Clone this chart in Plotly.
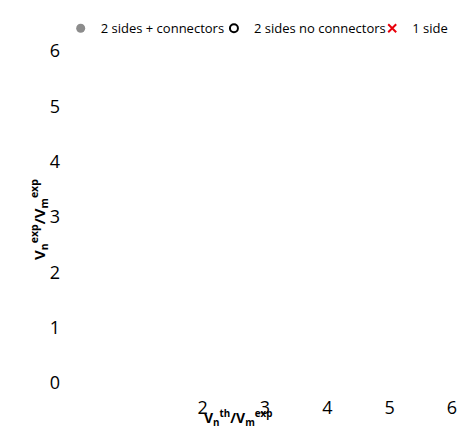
import plotly.graph_objects as go

# Data (the reference plot area shows no visible points)
series_names = ["2 sides + connectors", "2 sides no connectors", "1 side"]
x_2sides_conn = [None]
y_2sides_conn = [None]
x_2sides_noconn = [None]
y_2sides_noconn = [None]
x_1side = [None]
y_1side = [None]

x_ticks = [2, 3, 4, 5, 6]
y_ticks = [0, 1, 2, 3, 4, 5, 6]

FONT = "Open Sans, Noto Sans, sans-serif"

W, H = 466, 426
L, R, T, B = 70.3, 443.7, 42.7, 374.7


def px_x(v):
    return (v - L) / (R - L)


def px_y(v):
    return (B - v) / (B - T)


fig = go.Figure()
fig.add_trace(go.Scatter(x=x_2sides_conn, y=y_2sides_conn, mode="markers", name=series_names[0],
                         legend="legend",
                         marker=dict(symbol="circle", size=9, color="#8c8c8c")))
fig.add_trace(go.Scatter(x=x_2sides_noconn, y=y_2sides_noconn, mode="markers", name=series_names[1],
                         legend="legend2",
                         marker=dict(symbol="circle-open", size=8, color="black", line=dict(width=2, color="black"))))
fig.add_trace(go.Scatter(x=x_1side, y=y_1side, mode="markers", name=series_names[2],
                         legend="legend3",
                         marker=dict(symbol="x-thin-open", size=8, color="#e8000b", line=dict(width=2, color="#e8000b"))))

leg_common = dict(orientation="h", xanchor="left", yanchor="middle", y=px_y(20),
                  font=dict(size=13, family=FONT), itemwidth=30, indentation=-15,
                  bgcolor="rgba(0,0,0,0)", borderwidth=0)

fig.update_layout(
    width=W, height=H,
    margin=dict(l=L, r=W - R, t=T, b=H - B, autoexpand=False),
    paper_bgcolor="white", plot_bgcolor="white",
    font=dict(family=FONT, color="black"),
    showlegend=True,
    legend=dict(x=px_x(68), **leg_common),
    legend2=dict(x=px_x(221), **leg_common),
    legend3=dict(x=px_x(379), **leg_common),
    xaxis=dict(range=[0, 6], tickvals=x_ticks, showgrid=False, zeroline=False, showline=False,
               ticks="", tickfont=dict(size=18, family=FONT), ticklabelstandoff=12),
    yaxis=dict(range=[0, 6], tickvals=y_ticks, showgrid=False, zeroline=False, showline=False,
               ticks="", tickfont=dict(size=18, family=FONT), ticklabelstandoff=17),
    annotations=[
        dict(text="<b>V<sub>n</sub><sup>th</sup>/V<sub>m</sub><sup>exp</sup></b>",
             xref="paper", yref="paper", x=px_x(230.5), y=px_y(410),
             xanchor="center", yanchor="middle", showarrow=False,
             font=dict(size=14, family=FONT)),
        dict(text="<b>V<sub>n</sub><sup>exp</sup>/V<sub>m</sub><sup>exp</sup></b>",
             xref="paper", yref="paper", x=px_x(31), y=px_y(211),
             xanchor="center", yanchor="middle", showarrow=False, textangle=-90,
             font=dict(size=15, family=FONT)),
    ],
)

fig.write_html("out.html")
